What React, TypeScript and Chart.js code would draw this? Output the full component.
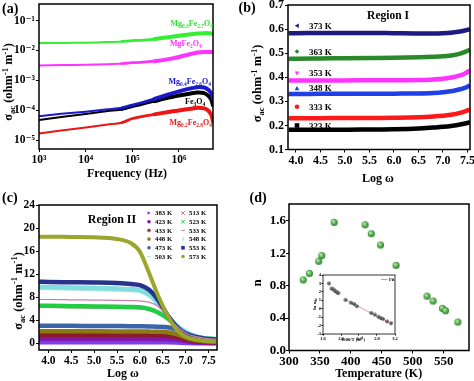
import React, { useEffect, useRef } from 'react';
import { Chart, registerables } from 'chart.js';
Chart.register(...registerables);

const SERIF = '"Liberation Serif", "Times New Roman", "DejaVu Serif", serif';

// ---------------- Panel (a) data ----------------
const freqA = [1e3, 3e3, 1e4, 3e4, 6e4, 1e5, 1.5e5, 3e5, 6e5, 1e6, 1.8e6, 2.5e6, 3.5e6, 4.3e6, 5e6, 5.4e6];
const sigmaMg03 = [1.78e-2, 1.78e-2, 1.82e-2, 1.91e-2, 2.0e-2, 2.14e-2, 2.19e-2, 2.4e-2, 2.75e-2, 3.09e-2, 3.47e-2, 3.72e-2, 3.8e-2, 3.8e-2, 3.72e-2, 3.63e-2];
const sigmaMgFe2O4 = [3.16e-3, 3.24e-3, 3.31e-3, 3.47e-3, 3.63e-3, 3.89e-3, 3.98e-3, 4.37e-3, 5.13e-3, 6.03e-3, 7.59e-3, 8.51e-3, 8.91e-3, 8.91e-3, 8.91e-3, 8.71e-3];
const sigmaMg04 = [6.31e-5, 7.59e-5, 8.91e-5, 1.07e-4, 1.2e-4, 1.48e-4, 1.74e-4, 2.4e-4, 3.39e-4, 4.27e-4, 5.37e-4, 5.89e-4, 5.75e-4, 4.79e-4, 3.55e-4, 2.4e-4];
const sigmaFe3O4 = [4.68e-5, 5.89e-5, 7.41e-5, 9.33e-5, 1.05e-4, 1.32e-4, 1.51e-4, 2.0e-4, 2.63e-4, 3.09e-4, 3.63e-4, 3.89e-4, 3.72e-4, 3.02e-4, 2.19e-4, 1.45e-4];
const sigmaMg02 = [1.66e-5, 2.09e-5, 2.63e-5, 3.31e-5, 3.8e-5, 5.25e-5, 6.03e-5, 7.24e-5, 8.71e-5, 9.77e-5, 1.12e-4, 1.2e-4, 1.15e-4, 9.55e-5, 6.76e-5, 4.17e-5];
const xTicksA = [1e3, 1e4, 1e5, 1e6];
const xTickLabelsA = ['10³', '10⁴', '10⁵', '10⁶'];
const yTicksA = [1e-5, 1e-4, 1e-3, 1e-2, 1e-1];
const yTickLabelsA = ['10⁻⁵', '10⁻⁴', '10⁻³', '10⁻²', '10⁻¹'];

// ---------------- Panel (b) data ----------------
const logOmegaB = [3.85, 4.0, 4.5, 5.0, 5.5, 6.0, 6.5, 6.8, 7.0, 7.2, 7.35, 7.45, 7.55];
const sig373B = [0.583, 0.583, 0.584, 0.584, 0.584, 0.583, 0.582, 0.582, 0.583, 0.586, 0.59, 0.594, 0.6];
const sig363B = [0.476, 0.477, 0.478, 0.479, 0.48, 0.481, 0.483, 0.485, 0.487, 0.491, 0.498, 0.505, 0.514];
const sig353B = [0.386, 0.386, 0.387, 0.387, 0.388, 0.388, 0.389, 0.391, 0.394, 0.4, 0.408, 0.416, 0.428];
const sig348B = [0.33, 0.33, 0.331, 0.331, 0.331, 0.332, 0.333, 0.335, 0.338, 0.343, 0.35, 0.356, 0.366];
const sig333B = [0.23, 0.23, 0.23, 0.231, 0.231, 0.232, 0.234, 0.237, 0.24, 0.245, 0.252, 0.258, 0.266];
const sig323B = [0.182, 0.182, 0.182, 0.182, 0.183, 0.184, 0.187, 0.191, 0.194, 0.199, 0.204, 0.208, 0.213];
const labelsB = ['373 K', '363 K', '353 K', '348 K', '333 K', '323 K'];
const xTicksB = [4.0, 4.5, 5.0, 5.5, 6.0, 6.5, 7.0, 7.5];
const yTicksB = [0.1, 0.2, 0.3, 0.4, 0.5, 0.6, 0.7];

// ---------------- Panel (c) data ----------------
const logOmegaC = [3.8, 4.0, 4.5, 5.0, 5.5, 5.8, 6.0, 6.2, 6.4, 6.6, 6.8, 7.0, 7.2, 7.4, 7.66];
const sig573C = [18.5, 18.5, 18.45, 18.4, 18.1, 17.4, 15.9, 12.2, 8.2, 4.9, 2.4, 1.2, 0.7, 0.45, 0.35];
const sig553C = [10.7, 10.65, 10.6, 10.55, 10.45, 10.3, 10.1, 9.3, 7.5, 4.9, 2.9, 1.7, 1.15, 0.85, 0.65];
const sig548C = [9.8, 9.75, 9.7, 9.6, 9.5, 9.4, 9.25, 8.5, 6.9, 4.9, 3.1, 2.0, 1.3, 0.9, 0.7];
const sig533C = [7.6, 7.6, 7.55, 7.5, 7.45, 7.4, 7.35, 7.15, 6.4, 4.7, 3.0, 1.8, 1.2, 0.9, 0.7];
const sig523C = [6.5, 6.5, 6.45, 6.4, 6.35, 6.3, 6.25, 5.95, 5.35, 4.35, 3.0, 1.8, 1.2, 0.9, 0.75];
const sig513C = [6.3, 6.3, 6.25, 6.2, 6.15, 6.1, 6.05, 5.8, 5.2, 4.2, 2.9, 1.7, 1.1, 0.85, 0.7];
const sig503C = [9.5, 9.45, 9.4, 9.3, 9.2, 9.1, 8.95, 8.2, 6.7, 4.8, 3.0, 1.9, 1.2, 0.85, 0.65];
const sig473C = [3.05, 3.05, 3.03, 3.02, 3.0, 2.98, 2.95, 2.92, 2.88, 2.78, 2.4, 1.5, 0.85, 0.6, 0.45];
const sig448C = [2.1, 2.1, 2.1, 2.08, 2.06, 2.05, 2.04, 2.03, 2.0, 1.92, 1.6, 1.0, 0.55, 0.35, 0.25];
const sig433C = [1.45, 1.45, 1.45, 1.44, 1.43, 1.42, 1.41, 1.4, 1.38, 1.32, 1.12, 0.7, 0.35, 0.22, 0.15];
const sig423C = [0.8, 0.8, 0.8, 0.8, 0.79, 0.78, 0.78, 0.77, 0.76, 0.72, 0.6, 0.38, 0.18, 0.09, 0.05];
const sig383C = [0.2, 0.2, 0.2, 0.2, 0.2, 0.2, 0.19, 0.19, 0.18, 0.17, 0.13, 0.07, 0.03, 0.01, 0.0];
const labelsC = ['383 K', '423 K', '433 K', '448 K', '473 K', '503 K', '513 K', '523 K', '533 K', '548 K', '553 K', '573 K'];
const xTicksC = [4.0, 4.5, 5.0, 5.5, 6.0, 6.5, 7.0, 7.5];
const yTicksC = [0, 4, 8, 12, 16, 20, 24];

// ---------------- Panel (d) data ----------------
const tempD = [323, 333, 348, 353, 373, 423, 433, 448, 473, 523, 533, 548, 553, 573];
const nD = [0.87, 0.95, 1.1, 1.17, 1.58, 1.55, 1.44, 1.3, 1.05, 0.67, 0.61, 0.52, 0.49, 0.35];
const xTicksD = [300, 350, 400, 450, 500, 550];
const yTicksD = [0, 0.4, 0.8, 1.2, 1.6];
// inset
const invT = [1.73, 1.79, 1.83, 1.87, 1.91, 1.94, 2.1, 2.22, 2.29, 2.35, 2.67, 2.75, 2.83, 2.88, 2.93, 3.02, 3.11];
const lnSigmaDc = [3.0, 2.4, 2.3, 2.1, 1.95, 1.85, 1.05, 0.72, 0.56, 0.3, -0.5, -0.7, -0.95, -1.1, -1.2, -1.5, -1.72];
const fitX = [2.08, 3.12];
const fitY = [1.12, -1.78];
const xTicksIn = [1.6, 2.0, 2.4, 2.8, 3.2];
const yTicksIn = [-3, -2, -1, 0, 1, 2, 3, 4];

// ---------------- helpers ----------------
type Area = { W: number; H: number; L: number; T: number; R: number; B: number };
type Seg = [string, number];

const A_AREA: Area = { W: 237, H: 190, L: 39, T: 4, R: 213, B: 149 };
const B_AREA: Area = { W: 237, H: 190, L: 51, T: 5, R: 233, B: 149.5 };
const C_AREA: Area = { W: 237, H: 191, L: 39, T: 15, R: 217, B: 160 };
const D_AREA: Area = { W: 237, H: 191, L: 52, T: 14, R: 233, B: 160.5 };
const IN_AREA: Area = { W: 100, H: 78, L: 23, T: 7, R: 96, B: 66 };

function pts(xs: number[], ys: number[]) {
  return xs.map((x, i) => ({ x, y: ys[i] }));
}

function drawRich(ctx: CanvasRenderingContext2D, segs: Seg[], x: number, y: number, size: number, color: string, align: 'left' | 'center' | 'right' = 'left', rot = 0) {
  ctx.save();
  ctx.translate(x, y);
  if (rot) ctx.rotate(rot);
  ctx.fillStyle = color;
  ctx.textAlign = 'left';
  ctx.textBaseline = 'alphabetic';
  const small = size * 0.68;
  const widths = segs.map(([t, k]) => {
    ctx.font = `bold ${k ? small : size}px ${SERIF}`;
    return ctx.measureText(t).width;
  });
  const total = widths.reduce((a, b) => a + b, 0);
  let cx = align === 'center' ? -total / 2 : align === 'right' ? -total : 0;
  const base = size * 0.34;
  segs.forEach(([t, k], i) => {
    ctx.font = `bold ${k ? small : size}px ${SERIF}`;
    const dy = k === 1 ? size * 0.24 : k === 2 ? -size * 0.38 : 0;
    ctx.fillText(t, cx, base + dy);
    cx += widths[i];
  });
  ctx.restore();
}

function drawMarker(ctx: CanvasRenderingContext2D, style: string, x: number, y: number, r: number, color: string) {
  ctx.save();
  ctx.fillStyle = color;
  ctx.strokeStyle = color;
  ctx.lineWidth = 1;
  ctx.beginPath();
  switch (style) {
    case 'circle': ctx.arc(x, y, r, 0, Math.PI * 2); ctx.fill(); break;
    case 'square': ctx.fillRect(x - r, y - r, 2 * r, 2 * r); break;
    case 'triUp': ctx.moveTo(x, y - r); ctx.lineTo(x + r, y + r * 0.8); ctx.lineTo(x - r, y + r * 0.8); ctx.closePath(); ctx.fill(); break;
    case 'triDown': ctx.moveTo(x, y + r); ctx.lineTo(x + r, y - r * 0.8); ctx.lineTo(x - r, y - r * 0.8); ctx.closePath(); ctx.fill(); break;
    case 'triLeft': ctx.moveTo(x - r, y); ctx.lineTo(x + r * 0.8, y - r); ctx.lineTo(x + r * 0.8, y + r); ctx.closePath(); ctx.fill(); break;
    case 'triRight': ctx.moveTo(x + r, y); ctx.lineTo(x - r * 0.8, y - r); ctx.lineTo(x - r * 0.8, y + r); ctx.closePath(); ctx.fill(); break;
    case 'diamond': ctx.moveTo(x, y - r); ctx.lineTo(x + r, y); ctx.lineTo(x, y + r); ctx.lineTo(x - r, y); ctx.closePath(); ctx.fill(); break;
    case 'cross': ctx.moveTo(x - r, y - r); ctx.lineTo(x + r, y + r); ctx.moveTo(x + r, y - r); ctx.lineTo(x - r, y + r); ctx.stroke(); break;
    case 'dash': ctx.moveTo(x - r, y); ctx.lineTo(x + r, y); ctx.stroke(); break;
    case 'vbar': ctx.moveTo(x, y - r); ctx.lineTo(x, y + r); ctx.stroke(); break;
    case 'star': ctx.moveTo(x - r, y); ctx.lineTo(x + r, y); ctx.moveTo(x, y - r); ctx.lineTo(x, y + r); ctx.moveTo(x - r * 0.7, y - r * 0.7); ctx.lineTo(x + r * 0.7, y + r * 0.7); ctx.moveTo(x + r * 0.7, y - r * 0.7); ctx.lineTo(x - r * 0.7, y + r * 0.7); ctx.stroke(); break;
  }
  ctx.restore();
}

function makeBall(r: number, inner: string, outer: string) {
  const c = document.createElement('canvas');
  const s = Math.ceil(2 * r + 2);
  c.width = s; c.height = s;
  const g = c.getContext('2d')!;
  const cx = s / 2, cy = s / 2;
  const grad = g.createRadialGradient(cx - r * 0.35, cy - r * 0.4, r * 0.1, cx, cy, r);
  grad.addColorStop(0, inner);
  grad.addColorStop(1, outer);
  g.fillStyle = grad;
  g.beginPath();
  g.arc(cx, cy, r, 0, Math.PI * 2);
  g.fill();
  return c;
}

function buildScales(a: Area, xs: any, ys: any) {
  const mk = (s: any, horizontal: boolean) => {
    const { tickValues, tickLabels, fontSize, tickLength = 3, pad = 1, ...rest } = s;
    return {
      ...rest,
      grid: { drawOnChartArea: false, drawTicks: true, tickLength, color: '#000', lineWidth: 1 },
      border: { display: false },
      title: { display: false },
      ticks: {
        font: { family: SERIF, size: fontSize, weight: 'bold' },
        color: '#000',
        padding: pad,
        maxRotation: 0,
        minRotation: 0,
        autoSkip: false,
        callback: (_v: any, i: number) => tickLabels[i] ?? '',
      },
      afterBuildTicks: (sc: any) => { sc.ticks = tickValues.map((v: number) => ({ value: v })); },
      afterFit: horizontal
        ? (sc: any) => { sc.height = a.H - a.B; sc.paddingLeft = 0; sc.paddingRight = 0; }
        : (sc: any) => { sc.width = a.L; sc.paddingTop = 0; sc.paddingBottom = 0; },
    };
  };
  return { x: mk(xs, true), y: mk(ys, false) };
}

function baseOptions(a: Area, scales: any) {
  return {
    responsive: false,
    animation: false,
    events: [],
    layout: { padding: { left: 0, top: a.T, right: a.W - a.R, bottom: 0 } },
    plugins: { legend: { display: false }, tooltip: { enabled: false } },
    scales,
  };
}

function decor(id: string, fn: (chart: any, ctx: CanvasRenderingContext2D) => void, lw = 1.5) {
  return {
    id,
    afterDraw(chart: any) {
      const ctx = chart.ctx as CanvasRenderingContext2D;
      const { left, top, right, bottom } = chart.chartArea;
      ctx.save();
      ctx.strokeStyle = '#000';
      ctx.lineWidth = lw;
      ctx.strokeRect(left, top, right - left, bottom - top);
      ctx.restore();
      fn(chart, ctx);
    },
  };
}

const SIGMA_TITLE: Seg[] = [['σ', 0], ['ac', 1], [' (ohm', 0], ['-1', 2], [' m', 0], ['-1', 2], [')', 0]];

function fmt1(arr: number[]) { return arr.map((v) => v.toFixed(1)); }

// ---------------- chart configs ----------------
function configA(): any {
  const seg = { borderWidth: (c: any) => (c.p0.parsed.x < 6e4 ? 2 : c.p0.parsed.x < 3e5 ? 2.8 : 4) };
  const line = (data: number[], color: string) => ({
    data: pts(freqA, data), borderColor: color, backgroundColor: color, pointRadius: 0,
    borderWidth: 3, tension: 0.25, borderCapStyle: 'round', borderJoinStyle: 'round', segment: seg,
  });
  const scales = buildScales(A_AREA,
    { type: 'logarithmic', min: 1e3, max: 5.4e6, tickValues: xTicksA, tickLabels: xTickLabelsA, fontSize: 11.5, pad: 1 },
    { type: 'logarithmic', min: 5.0e-6, max: 0.36, tickValues: yTicksA, tickLabels: yTickLabelsA, fontSize: 11.5, pad: 1 });
  return {
    type: 'line',
    data: {
      datasets: [
        line(sigmaMg03, '#33ee33'),
        line(sigmaMgFe2O4, '#ff33ff'),
        line(sigmaMg04, '#1a1acc'),
        line(sigmaFe3O4, '#000000'),
        line(sigmaMg02, '#ee1515'),
      ],
    },
    options: baseOptions(A_AREA, scales),
    plugins: [decor('decA', (chart, ctx) => {
      drawRich(ctx, [['(a)', 0]], 2, 8, 14, '#000', 'left');
      drawRich(ctx, SIGMA_TITLE, 8, 82, 12.5, '#000', 'center', -Math.PI / 2);
      drawRich(ctx, [['Frequency (Hz)', 0]], 127, 173, 12, '#000', 'center');
      drawRich(ctx, [['Mg', 0], ['0.3', 1], ['Fe', 0], ['2.7', 1], ['O', 0], ['4', 1]], 213, 23.5, 8, '#33dd33', 'right');
      drawRich(ctx, [['MgFe', 0], ['2', 1], ['O', 0], ['4', 1]], 170, 43.5, 8, '#ff33ff', 'left');
      drawRich(ctx, [['Mg', 0], ['0.4', 1], ['Fe', 0], ['2.6', 1], ['O', 0], ['4', 1]], 211, 81, 8, '#1a1acc', 'right');
      drawRich(ctx, [['Fe', 0], ['3', 1], ['O', 0], ['4', 1]], 185, 101, 8, '#000', 'left');
      drawRich(ctx, [['Mg', 0], ['0.2', 1], ['Fe', 0], ['2.8', 1], ['O', 0], ['4', 1]], 212, 122, 8, '#ee1515', 'right');
    })],
  };
}

const B_STYLE = [
  { color: '#1c1c80', marker: 'triLeft', y: 25.7 },
  { color: '#2a8a2a', marker: 'diamond', y: 51.5 },
  { color: '#ff33ff', marker: 'triDown', y: 73.3 },
  { color: '#1e40e6', marker: 'triUp', y: 88.3 },
  { color: '#ff1a1a', marker: 'circle', y: 106.7 },
  { color: '#000000', marker: 'square', y: 125.5 },
];

function configB(): any {
  const series = [sig373B, sig363B, sig353B, sig348B, sig333B, sig323B];
  const scales = buildScales(B_AREA,
    { type: 'linear', min: 3.837, max: 7.553, tickValues: xTicksB, tickLabels: fmt1(xTicksB), fontSize: 12, pad: 1 },
    { type: 'linear', min: 0.1, max: 0.7, tickValues: yTicksB, tickLabels: fmt1(yTicksB), fontSize: 12, pad: 1 });
  return {
    type: 'line',
    data: {
      datasets: series.map((s, i) => ({
        data: pts(logOmegaB, s), borderColor: B_STYLE[i].color, pointRadius: 0, borderWidth: 4.5,
        cubicInterpolationMode: 'monotone',
      })),
    },
    options: baseOptions(B_AREA, scales),
    plugins: [decor('decB', (chart, ctx) => {
      drawRich(ctx, [['(b)', 0]], 1.5, 7, 14, '#000', 'left');
      drawRich(ctx, SIGMA_TITLE, 20, 83.5, 12.5, '#000', 'center', -Math.PI / 2);
      drawRich(ctx, [['Log ω', 0]], 141, 178, 12, '#000', 'center');
      drawRich(ctx, [['Region I', 0]], 151, 15, 11.5, '#000', 'center');
      labelsB.forEach((t, i) => {
        drawMarker(ctx, B_STYLE[i].marker, 60, B_STYLE[i].y, 2.3, B_STYLE[i].color);
        drawRich(ctx, [[t, 0]], 72, B_STYLE[i].y, 9, '#000', 'left');
      });
    })],
  };
}

const C_STYLE: Record<string, { color: string; marker: string; width: number }> = {
  '383 K': { color: '#7b3fe4', marker: 'triRight', width: 4.5 },
  '423 K': { color: '#8418ae', marker: 'circle', width: 4.5 },
  '433 K': { color: '#8b1a2e', marker: 'star', width: 4.5 },
  '448 K': { color: '#8b7a14', marker: 'circle', width: 4.5 },
  '473 K': { color: '#3c64a8', marker: 'circle', width: 4.5 },
  '503 K': { color: '#b4e4e4', marker: 'dash', width: 3 },
  '513 K': { color: '#e07070', marker: 'cross', width: 2 },
  '523 K': { color: '#22cc44', marker: 'cross', width: 4.5 },
  '533 K': { color: '#cc7fa8', marker: 'dash', width: 1.2 },
  '548 K': { color: '#80dede', marker: 'vbar', width: 4.5 },
  '553 K': { color: '#28338e', marker: 'square', width: 4.5 },
  '573 K': { color: '#9aa62c', marker: 'circle', width: 4 },
};

function configC(): any {
  const drawOrder: [string, number[]][] = [
    ['573 K', sig573C], ['533 K', sig533C], ['553 K', sig553C], ['548 K', sig548C], ['503 K', sig503C],
    ['523 K', sig523C], ['513 K', sig513C], ['473 K', sig473C], ['448 K', sig448C], ['433 K', sig433C],
    ['423 K', sig423C], ['383 K', sig383C],
  ];
  const scales = buildScales(C_AREA,
    { type: 'linear', min: 3.796, max: 7.684, tickValues: xTicksC, tickLabels: fmt1(xTicksC), fontSize: 11.5, pad: 1 },
    { type: 'linear', min: -1.16, max: 24, tickValues: yTicksC, tickLabels: yTicksC.map(String), fontSize: 11.5, pad: 1 });
  return {
    type: 'line',
    data: {
      datasets: drawOrder.map(([k, s]) => ({
        data: pts(logOmegaC, s), borderColor: C_STYLE[k].color, pointRadius: 0, borderWidth: C_STYLE[k].width,
        cubicInterpolationMode: 'monotone',
      })),
    },
    options: baseOptions(C_AREA, scales),
    plugins: [decor('decC', (chart, ctx) => {
      drawRich(ctx, [['(c)', 0]], 2, 7, 14, '#000', 'left');
      drawRich(ctx, SIGMA_TITLE, 17.5, 101, 12.5, '#000', 'center', -Math.PI / 2);
      drawRich(ctx, [['Log ω', 0]], 123, 183, 12, '#000', 'center');
      drawRich(ctx, [['Region II', 0]], 112, 29, 12, '#000', 'center');
      labelsC.forEach((t, i) => {
        const col = Math.floor(i / 6), row = i % 6;
        const mx = col === 0 ? 149 : 183;
        const y = 23 + row * 8.7;
        drawMarker(ctx, C_STYLE[t].marker, mx, y, 1.8, C_STYLE[t].color);
        drawRich(ctx, [[t, 0]], mx + 6, y, 6.8, '#000', 'left');
      });
    })],
  };
}

function configD(): any {
  const ball = makeBall(3.5, '#b8f5a8', '#1e7a1e');
  const scales = buildScales(D_AREA,
    { type: 'linear', min: 300, max: 591, tickValues: xTicksD, tickLabels: xTicksD.map(String), fontSize: 13, pad: 0 },
    { type: 'linear', min: 0, max: 1.806, tickValues: yTicksD, tickLabels: fmt1(yTicksD), fontSize: 13, pad: 0 });
  return {
    type: 'scatter',
    data: { datasets: [{ data: pts(tempD, nD), pointStyle: ball, pointRadius: 3.5, showLine: false }] },
    options: baseOptions(D_AREA, scales),
    plugins: [decor('decD', (chart, ctx) => {
      drawRich(ctx, [['(d)', 0]], 12.5, 7.3, 14, '#000', 'left');
      drawRich(ctx, [['n', 0]], 20, 93, 13, '#000', 'center', -Math.PI / 2);
      drawRich(ctx, [['Temperature (K)', 0]], 141.7, 183, 12, '#000', 'center');
    })],
  };
}

function configInset(): any {
  const dot = makeBall(1.8, '#9a9a9a', '#111111');
  const scales = buildScales(IN_AREA,
    { type: 'linear', min: 1.6, max: 3.2, tickValues: xTicksIn, tickLabels: fmt1(xTicksIn), fontSize: 4.6, tickLength: 1.5, pad: 0.3 },
    { type: 'linear', min: -3, max: 4, tickValues: yTicksIn, tickLabels: yTicksIn.map(String), fontSize: 4.6, tickLength: 1.5, pad: 0.5 });
  return {
    type: 'scatter',
    data: {
      datasets: [
        { data: pts(invT, lnSigmaDc), pointStyle: dot, pointRadius: 1.8, showLine: false },
        { data: pts(fitX, fitY), showLine: true, borderColor: '#e07070', borderWidth: 0.7, pointRadius: 0 },
      ],
    },
    options: baseOptions(IN_AREA, scales),
    plugins: [decor('decIn', (chart, ctx) => {
      drawRich(ctx, [['ln σ', 0], ['dc', 1]], 14.3, 36, 5, '#000', 'center', -Math.PI / 2);
      drawRich(ctx, [['1000/T (K', 0], ['-1', 2], [')', 0]], 53, 71, 4.6, '#000', 'center');
      ctx.save();
      ctx.strokeStyle = '#e07070';
      ctx.lineWidth = 0.8;
      ctx.beginPath();
      ctx.moveTo(81, 11.5);
      ctx.lineTo(87.5, 11.5);
      ctx.stroke();
      ctx.restore();
      drawRich(ctx, [['Fit', 0]], 89, 11.5, 4.6, '#000', 'left');
    }, 0.8)],
  };
}

function Panel({ left, top, area, make }: { left: number; top: number; area: Area; make: () => any }) {
  const ref = useRef<HTMLCanvasElement>(null);
  useEffect(() => {
    const chart = new Chart(ref.current as HTMLCanvasElement, make());
    return () => chart.destroy();
  }, []);
  return (
    <canvas
      ref={ref}
      width={area.W}
      height={area.H}
      style={{ position: 'absolute', left, top, width: area.W, height: area.H }}
    />
  );
}

export default function App() {
  return (
    <div style={{ position: 'absolute', left: 0, top: 0, width: 474, height: 381, background: '#fff', overflow: 'hidden' }}>
      <Panel left={0} top={0} area={A_AREA} make={configA} />
      <Panel left={237} top={0} area={B_AREA} make={configB} />
      <Panel left={0} top={190} area={C_AREA} make={configC} />
      <Panel left={237} top={190} area={D_AREA} make={configD} />
      <Panel left={300} top={268} area={IN_AREA} make={configInset} />
    </div>
  );
}
